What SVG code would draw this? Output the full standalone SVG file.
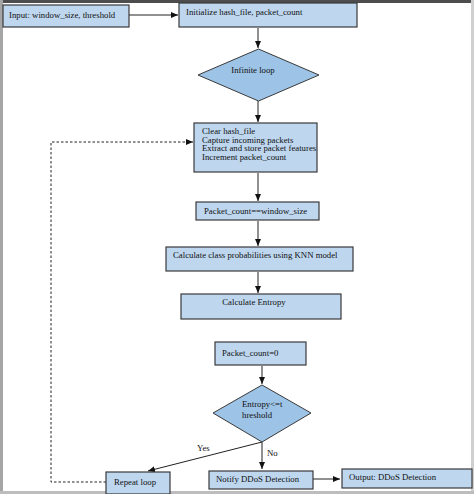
<svg xmlns="http://www.w3.org/2000/svg" width="474" height="494" viewBox="0 0 474 494">
<defs>
<style>
.box{fill:#bed7ef;stroke:#3a3a3a;stroke-width:1.2}
.dia{fill:#9dc3e6;stroke:#3a3a3a;stroke-width:1}
text{font-family:"Liberation Serif","Times New Roman",serif;font-size:8.75px;fill:#111}
.ln{stroke:#222;stroke-width:1;fill:none}
.dash{stroke:#222;stroke-width:1;fill:none;stroke-dasharray:2.5 2}
</style>
<marker id="ah" markerWidth="8" markerHeight="8" refX="7" refY="4" orient="auto" markerUnits="userSpaceOnUse">
<path d="M0,1 L7,4 L0,7 Z" fill="#111"/>
</marker>
</defs>
<rect x="0" y="0" width="474" height="494" fill="#ffffff"/>
<rect x="0" y="0" width="474" height="3" fill="#4d4d4d"/>
<rect x="0" y="0" width="3" height="494" fill="#a5a5a5"/>
<rect x="471" y="0" width="3" height="494" fill="#d0d0d0"/>
<rect x="0" y="491" width="474" height="3" fill="#bdbdbd"/>

<g id="connectors">
<line class="ln" x1="129" y1="15" x2="178" y2="15" marker-end="url(#ah)"/>
<line class="ln" x1="258" y1="28" x2="258" y2="48" marker-end="url(#ah)"/>
<line class="ln" x1="258" y1="101" x2="258" y2="122" marker-end="url(#ah)"/>
<line class="ln" x1="258" y1="173" x2="258" y2="201" marker-end="url(#ah)"/>
<line class="ln" x1="258" y1="221" x2="258" y2="246" marker-end="url(#ah)"/>
<line class="ln" x1="258" y1="272" x2="258" y2="293" marker-end="url(#ah)"/>
<line class="ln" x1="262" y1="366" x2="262" y2="384" marker-end="url(#ah)"/>
<line class="ln" x1="262" y1="442" x2="148" y2="471" marker-end="url(#ah)"/>
<line class="ln" x1="262" y1="442" x2="262" y2="469" marker-end="url(#ah)"/>
<line class="ln" x1="313" y1="479" x2="340" y2="479" marker-end="url(#ah)"/>
<polyline class="dash" points="106,482 51,482 51,142 193,142" marker-end="url(#ah)"/>
<text x="197" y="451" font-size="7.5px">Yes</text>
<text x="267" y="456" font-size="7.5px">No</text>
</g>

<g id="input">
<rect class="box" x="3" y="5" width="126" height="22"/>
<text x="9" y="18" font-size="9.5px">Input: window_size, threshold</text>
</g>
<g id="init">
<rect class="box" x="179" y="3" width="178" height="24"/>
<text x="186" y="15" font-size="10px">Initialize hash_file, packet_count</text>
</g>
<g id="loop">
<polygon class="dia" points="258.5,49 319,75 258.5,101 198,75"/>
<text x="253" y="73" text-anchor="middle" font-size="8.3px">Infinite loop</text>
</g>
<g id="capture">
<rect class="box" x="194" y="123" width="123" height="49"/>
<text x="202" y="134" font-size="7.9px">Clear hash_file</text>
<text x="202" y="142.7" font-size="7.9px">Capture incoming packets</text>
<text x="202" y="151.4" font-size="7.9px">Extract and store packet features</text>
<text x="202" y="160.1" font-size="7.9px">Increment packet_count</text>
</g>
<g id="check">
<rect class="box" x="196" y="202" width="123" height="18"/>
<text x="204" y="214">Packet_count==window_size</text>
</g>
<g id="knn">
<rect class="box" x="166" y="247" width="187" height="24"/>
<text x="173" y="258">Calculate class probabilities using KNN model</text>
</g>
<g id="entropy">
<rect class="box" x="181" y="294" width="160" height="25"/>
<text x="254" y="305" text-anchor="middle">Calculate Entropy</text>
</g>
<g id="reset">
<rect class="box" x="215" y="342" width="91" height="23"/>
<text x="222" y="356">Packet_count=0</text>
</g>
<g id="decision">
<polygon class="dia" points="262,385 311,413 262,442 213,413"/>
<text x="242" y="407" font-size="7.6px">Entropy&lt;=t</text>
<text x="242" y="418" font-size="8.2px">hreshold</text>
</g>
<g id="repeat">
<rect class="box" x="106" y="472" width="64" height="22"/>
<text x="114" y="485">Repeat loop</text>
</g>
<g id="notify">
<rect class="box" x="209" y="471" width="104" height="18"/>
<text x="216" y="482">Notify DDoS Detection</text>
</g>
<g id="output">
<rect class="box" x="342" y="469" width="130" height="19"/>
<text x="349" y="480">Output: DDoS Detection</text>
</g>
</svg>
